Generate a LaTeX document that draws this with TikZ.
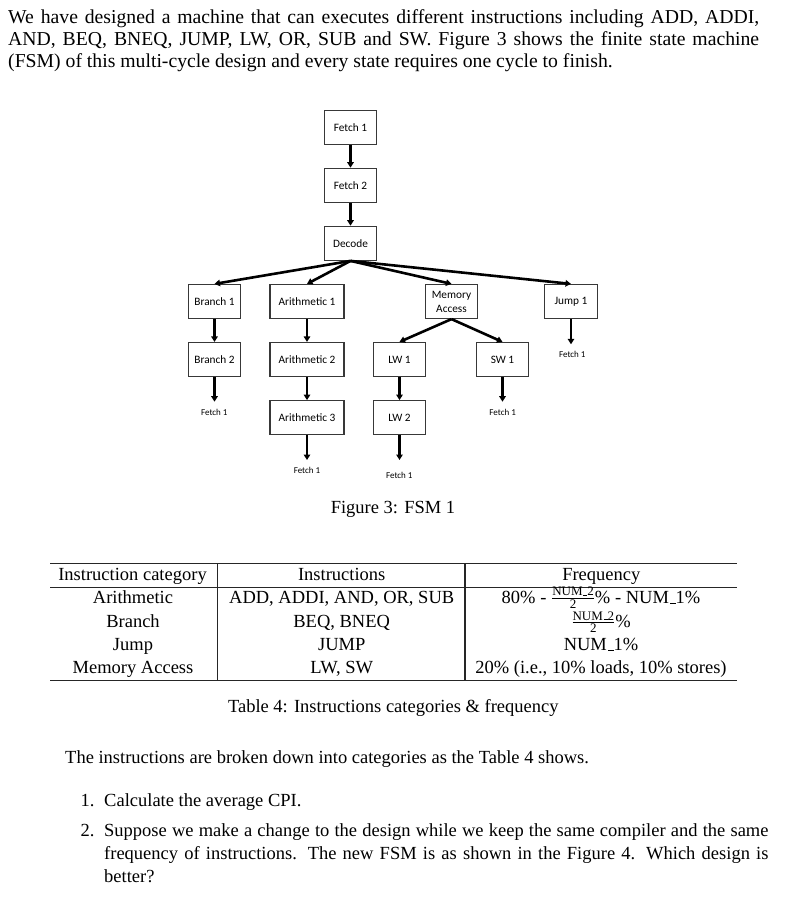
\documentclass[tikz,border=0pt]{standalone}
\usepackage{fontspec}
\setmainfont{Liberation Serif}
\newfontfamily\calib{Carlito}
\usetikzlibrary{arrows.meta}
\newcommand\us{\leavevmode\kern.06em\vbox{\hrule width.3em height 0.8pt}}
\newcommand\numfrac{$\frac{\mbox{\fontsize{13}{13}\selectfont NUM\us 2}}{\mbox{\fontsize{13}{13}\selectfont 2}}$}
\begin{document}
\begin{tikzpicture}[x=1pt,y=-1pt,
  state/.style={draw=black!78, line width=1.2pt, minimum height=34pt, minimum width=52.4pt,
    inner sep=1pt, align=center, font=\calib\fontsize{11.3}{14}\selectfont},
  wide/.style={state, minimum width=74pt},
  flab/.style={font=\calib\fontsize{9}{10}\selectfont, inner sep=0pt},
  arr/.style={line width=2.6pt, -{Triangle[width=6.5pt,length=5.5pt]}},
  body/.style={font=\fontsize{18.5}{22.2}\selectfont, inner sep=0pt, anchor=base west},
  intro/.style={font=\fontsize{19.7}{22.2}\selectfont, inner sep=0pt, anchor=base west},
  cell/.style={font=\fontsize{18.5}{22.2}\selectfont, inner sep=0pt, anchor=base},
  tabrule/.style={line width=1.1pt, draw=black!85}]
\useasboundingbox (0,0) rectangle (799,899);

% opening paragraph
\node[intro] (p1) at (8,23.3) {\makebox[751pt][s]{We have designed a machine that can executes different instructions including ADD, ADDI,}};
\node[intro] (p2) at (8,45.5) {\makebox[751pt][s]{AND, BEQ, BNEQ, JUMP, LW, OR, SUB and SW. Figure 3 shows the finite state machine}};
\node[intro] (p3) at (8,67.7) {(FSM) of this multi-cycle design and every state requires one cycle to finish.};

% FSM states
\node[state] (f1) at (350.5,127.7) {Fetch 1};
\node[state] (f2) at (350.5,185.3) {Fetch 2};
\node[state] (dec) at (350.5,243.3) {Decode};
\node[state] (b1) at (214.5,301.5) {Branch 1};
\node[wide] (a1) at (307,301.5) {Arithmetic 1};
\node[state, minimum width=51.6pt] (ma) at (451.5,301.5) {Memory\\Access};
\node[state] (j1) at (571,301.5) {Jump 1};
\node[state] (b2) at (214.5,359.5) {Branch 2};
\node[wide] (a2) at (307,359.5) {Arithmetic 2};
\node[state] (lw1) at (399.5,359.5) {LW 1};
\node[state] (sw1) at (502.5,359.5) {SW 1};
\node[wide] (a3) at (307,417.7) {Arithmetic 3};
\node[state] (lw2) at (399.5,417.7) {LW 2};

% return labels
\node[flab] (fb) at (214.3,412) {Fetch 1};
\node[flab] (fa) at (307,470) {Fetch 1};
\node[flab] (fl) at (399.3,475) {Fetch 1};
\node[flab] (fs) at (502.7,412) {Fetch 1};
\node[flab] (fj) at (572.3,354) {Fetch 1};

\coordinate (eb) at (214.5,401.7);
\coordinate (ea) at (307,460);
\coordinate (el) at (399.5,460);
\coordinate (es) at (502.5,401.7);
\coordinate (ej) at (571,344.3);

% transitions
\draw[arr] (f1) -- (f2);
\draw[arr] (f2) -- (dec);
\draw[arr] (dec.south) -- (b1.north);
\draw[arr] (dec.south) -- (a1.north);
\draw[arr] (dec.south) -- (ma.north);
\draw[arr] (dec.south) -- (j1.north);
\draw[arr] (b1) -- (b2);
\draw[arr] (a1) -- (a2);
\draw[arr] (a2) -- (a3);
\draw[arr] (ma.south) -- (lw1.north);
\draw[arr] (ma.south) -- (sw1.north);
\draw[arr] (lw1) -- (lw2);
\draw[arr] (j1.south) -- (ej);
\draw[arr] (b2.south) -- (eb);
\draw[arr] (a3.south) -- (ea);
\draw[arr] (lw2.south) -- (el);
\draw[arr] (sw1.south) -- (es);

\node[cell] (cap3) at (393,513.3) {Figure 3: FSM 1};

% table
\draw[tabrule] (50,563.3) -- (737.3,563.3);
\draw[tabrule] (50,587.3) -- (737.3,587.3);
\draw[tabrule] (50,680.7) -- (737.3,680.7);
\draw[tabrule] (217.7,563.3) -- (217.7,680.7);
\draw[tabrule] (465,563.3) -- (465,680.7);

\node[cell] (h1) at (132.5,580) {Instruction category};
\node[cell] (h2) at (341.7,580) {Instructions};
\node[cell] (h3) at (601.3,580) {Frequency};

\node[cell] (r1a) at (133,603.5) {Arithmetic};
\node[cell] (r1b) at (341.7,603.5) {ADD, ADDI, AND, OR, SUB};
\node[cell] (r1c) at (601,603.5) {80\% - \raisebox{1.3pt}{\numfrac}\% - NUM\us 1\%};

\node[cell] (r2a) at (133,627) {Branch};
\node[cell] (r2b) at (341.7,627) {BEQ, BNEQ};
\node[cell] (r2c) at (601,627) {\numfrac\%};

\node[cell] (r3a) at (133,650.7) {Jump};
\node[cell] (r3b) at (341.7,650.7) {JUMP};
\node[cell] (r3c) at (601,650.7) {NUM\us 1\%};

\node[cell] (r4a) at (133,673.3) {Memory Access};
\node[cell] (r4b) at (341.7,673.3) {LW, SW};
\node[cell] (r4c) at (601,673.3) {20\% (i.e., 10\% loads, 10\% stores)};

\node[cell] (cap4) at (393.3,712.7) {Table 4: Instructions categories \& frequency};

% closing text
\node[body] (q0) at (65,763.3) {The instructions are broken down into categories as the Table 4 shows.};
\node[body, anchor=base east] (n1) at (94.8,806.7) {1.};
\node[body] (q1) at (104,806.7) {Calculate the average CPI.};
\node[body, anchor=base east] (n2) at (94.8,836.7) {2.};
\node[body] (q2a) at (104,836.7) {\makebox[664.3pt][s]{Suppose we make a change to the design while we keep the same compiler and the same}};
\node[body] (q2b) at (104,859.3) {\makebox[664.3pt][s]{frequency of instructions. The new FSM is as shown in the Figure 4. Which design is}};
\node[body] (q2c) at (104,882.7) {better?};
\end{tikzpicture}
\end{document}
